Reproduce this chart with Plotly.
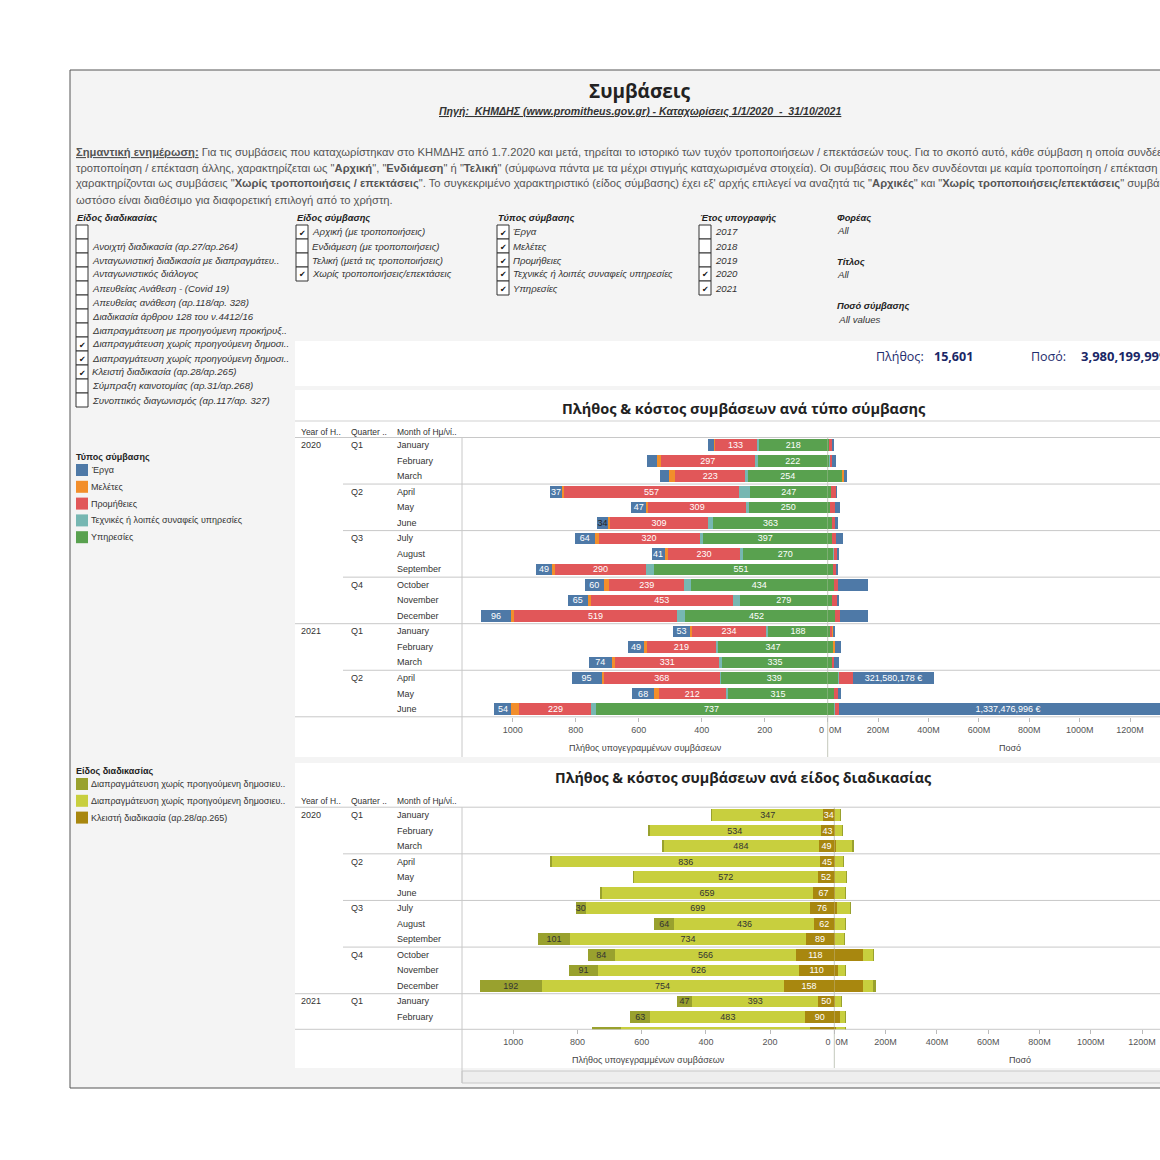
import plotly.graph_objects as go

W = H = 1160
def X(p): return p / W
def Y(p): return 1 - p / H

ARIAL = "Liberation Sans, Arial, sans-serif"
NARROW = "Liberation Sans Narrow, Liberation Sans, Arial, sans-serif"
TITLEF = "Open Sans, Noto Sans, sans-serif"
NB = "\u00a0"

# ---------------- data ----------------
months = ["January", "February", "March", "April", "May", "June", "July", "August", "September",
          "October", "November", "December", "January", "February", "March", "April", "May", "June"]
years = ["2020"] * 12 + ["2021"] * 6
quarters = ["Q1"] * 3 + ["Q2"] * 3 + ["Q3"] * 3 + ["Q4"] * 3 + ["Q1"] * 3 + ["Q2"] * 3
keys1 = [f"{y}-{i}" for i, y in enumerate(years)]

type_names = ["Έργα", "Μελέτες", "Προμήθειες", "Τεχνικές ή λοιπές συναφείς υπηρεσίες", "Υπηρεσίες"]
type_colors = ["#4e79a7", "#f28e2b", "#e15759", "#76b7b2", "#59a14f"]

# counts per type (Jan 2020 .. Jun 2021)
erga_n = [19, 32, 28, 37, 47, 34, 64, 41, 49, 60, 65, 96, 53, 49, 74, 95, 68, 54]
meletes_n = [2, 13, 21, 6, 7, 8, 12, 10, 10, 17, 8, 8, 8, 10, 10, 7, 16, 25]
promitheies_n = [133, 297, 223, 557, 309, 309, 320, 230, 290, 239, 453, 519, 234, 219, 331, 368, 212, 229]
texnikes_n = [8, 10, 7, 34, 10, 18, 10, 8, 25, 21, 21, 26, 8, 8, 9, 4, 9, 13]
ypiresies_n = [218, 222, 254, 247, 250, 363, 397, 270, 551, 434, 279, 452, 188, 347, 335, 339, 315, 737]
erga_n_shown = [False] * 3 + [True] * 15

# amounts per type (EUR)
erga_a = [2e6, 17e6, 12e6, 1e6, 20e6, 11e6, 28e6, 9e6, 8e6, 116e6, 9e6, 111e6, 11e6, 25e6, 20e6,
          321580178, 13e6, 1337476996]
meletes_a = [0.5e6, 0.5e6, 4e6, 0.5e6, 0.5e6, 0.5e6, 0.5e6, 0.5e6, 0.5e6, 1e6, 0.5e6, 0.5e6, 0.5e6,
             4e6, 0.5e6, 0.5e6, 0.5e6, 0.5e6]
promitheies_a = [12e6, 9e6, 2e6, 20e6, 20e6, 13e6, 17e6, 13e6, 12e6, 15e6, 20e6, 20e6, 9e6, 2e6, 9e6,
                 57e6, 15e6, 19e6]
texnikes_a = [1e6] * 18
ypiresies_a = [6e6, 7e6, 56e6, 13e6, 9e6, 16e6, 16e6, 22e6, 20e6, 25e6, 16e6, 29e6, 9e6, 20e6, 16e6,
               42e6, 25e6, 26e6]
erga_a_shown = [False] * 15 + [True, False, True]

# chart 2 (Jan 2020 .. Mar 2021)
n2 = 15
keys2 = keys1[:n2]
proc_names = ["Διαπραγμάτευση χωρίς προηγούμενη δημοσιευ..",
              "Διαπραγμάτευση χωρίς προηγούμενη δημοσιευ..",
              "Κλειστή διαδικασία (αρ.28/αρ.265)"]
proc_colors = ["#99a12e", "#c8cf3e", "#a8870f"]
olive_n = [2, 1, 2, 2, 1, 4, 30, 64, 101, 84, 91, 192, 47, 63, 93]
yg_n = [347, 534, 484, 836, 572, 659, 699, 436, 734, 566, 626, 754, 393, 483, 587]
gold_n = [34, 43, 49, 45, 52, 67, 76, 62, 89, 118, 110, 158, 50, 90, 76]
olive_n_shown = [False] * 6 + [True] * 8 + [False]
olive_a = [0.3e6, 0.2e6, 3e6, 0.3e6, 0.3e6, 0.3e6, 0.5e6, 0.5e6, 0.5e6, 1e6, 0.5e6, 9e6, 0.5e6, 0.5e6, 0.5e6]
yg_a = [24e6, 31e6, 68e6, 35e6, 45e6, 42e6, 55e6, 42e6, 38e6, 40e6, 31e6, 39e6, 27e6, 22e6, 39e6]
gold_a = [1e6, 2e6, 6e6, 3e6, 3e6, 2e6, 9e6, 2e6, 2e6, 113e6, 13e6, 113e6, 2e6, 22e6, 5e6]

# left count axis shows 200..1000; its "0" is printed together with the amount axis' "0M"
count_ticks = [200, 400, 600, 800, 1000]
count_ticktext = ["200", "400", "600", "800", "1000"]
amount_ticks = [0, 200e6, 400e6, 600e6, 800e6, 1000e6, 1200e6]
amount_ticktext = [NB * 2 + "0" + NB * 2 + "0M", "200M", "400M", "600M", "800M", "1000M", "1200M"]

# ---------------- figure ----------------
fig = go.Figure()

def lbl(vals, shown=None):
    return [str(v) if (shown is None or s) else "" for v, s in zip(vals, shown or [True] * len(vals))]

# Chart 1 counts (stack order from zero: Υπηρεσίες, Τεχνικές, Προμήθειες, Μελέτες, Έργα)
c1_counts = [
    (4, ypiresies_n, lbl(ypiresies_n), "white"),
    (3, texnikes_n, [""] * 18, "white"),
    (2, promitheies_n, lbl(promitheies_n), "white"),
    (1, meletes_n, [""] * 18, "white"),
    (0, erga_n, lbl(erga_n, erga_n_shown), ["#222" if v == 34 else "white" for v in erga_n]),
]
for idx, vals, texts, tcol in c1_counts:
    fig.add_trace(go.Bar(y=keys1, x=vals, orientation="h", marker=dict(color=type_colors[idx], line=dict(width=0)),
                         name=type_names[idx], text=texts, textposition="inside", insidetextanchor="middle",
                         constraintext="none", textangle=0,
                         textfont=dict(size=9, color=tcol, family=ARIAL),
                         xaxis="x", yaxis="y", showlegend=False, hoverinfo="skip"))
c1_amounts = [
    (4, ypiresies_a, [""] * 18),
    (3, texnikes_a, [""] * 18),
    (2, promitheies_a, [""] * 18),
    (1, meletes_a, [""] * 18),
    (0, erga_a, [f"{int(v):,} €" if s else "" for v, s in zip(erga_a, erga_a_shown)]),
]
for idx, vals, texts in c1_amounts:
    fig.add_trace(go.Bar(y=keys1, x=vals, orientation="h", marker=dict(color=type_colors[idx], line=dict(width=0)),
                         name=type_names[idx], text=texts, textposition="inside", insidetextanchor="middle",
                         constraintext="none", textangle=0,
                         textfont=dict(size=9, color="white", family=ARIAL),
                         xaxis="x2", yaxis="y", showlegend=False, hoverinfo="skip"))

# Chart 2 (stack order from zero: Κλειστή, yellow-green, olive)
c2_counts = [
    (2, gold_n, lbl(gold_n), "white"),
    (1, yg_n, lbl(yg_n), "#333"),
    (0, olive_n, lbl(olive_n, olive_n_shown), "#333"),
]
for idx, vals, texts, tcol in c2_counts:
    fig.add_trace(go.Bar(y=keys2, x=vals, orientation="h", marker=dict(color=proc_colors[idx], line=dict(width=0)),
                         name=proc_names[idx], text=texts, textposition="inside", insidetextanchor="middle",
                         constraintext="none", textangle=0,
                         textfont=dict(size=9, color=tcol, family=ARIAL),
                         xaxis="x3", yaxis="y2", showlegend=False, hoverinfo="skip"))
for idx, vals in [(2, gold_a), (1, yg_a), (0, olive_a)]:
    fig.add_trace(go.Bar(y=keys2, x=vals, orientation="h", marker=dict(color=proc_colors[idx], line=dict(width=0)),
                         name=proc_names[idx], xaxis="x4", yaxis="y2", showlegend=False, hoverinfo="skip"))

# ---------------- shapes & annotations ----------------
shapes = []
ann = []

def rect(x0, y0, x1, y1, fill, line=None, lw=1):
    shapes.append(dict(type="rect", xref="paper", yref="paper", x0=X(x0), x1=X(x1), y0=Y(y0), y1=Y(y1),
                       fillcolor=fill, line=dict(color=line or fill, width=lw if line else 0), layer="below"))

def hline(x0, x1, y, color="#c8c8c8", lw=1):
    shapes.append(dict(type="line", xref="paper", yref="paper", x0=X(x0), x1=X(x1), y0=Y(y), y1=Y(y),
                       line=dict(color=color, width=lw), layer="below"))

def vline(x, y0, y1, color="#c8c8c8", lw=1):
    shapes.append(dict(type="line", xref="paper", yref="paper", x0=X(x), x1=X(x), y0=Y(y0), y1=Y(y1),
                       line=dict(color=color, width=lw), layer="below"))

def txt(x, y, s, size=9, color="#333", family=ARIAL, xanchor="left", yanchor="middle", yref="paper"):
    ann.append(dict(x=X(x), y=(Y(y) if yref == "paper" else y), xref="paper", yref=yref, text=s,
                    showarrow=False, xanchor=xanchor, yanchor=yanchor,
                    font=dict(size=size, color=color, family=family)))

# dashboard background
rect(70, 70, 1180, 1088, "#f4f4f4", "#555555", 1)
# KPI panel & chart panels
rect(295, 341, 1170, 386, "#ffffff")
rect(295, 390, 1170, 757, "#ffffff")
rect(295, 763, 1170, 1068, "#ffffff")
# scrollbar
rect(462, 1071, 1170, 1083, "#eeeeee", "#c8c8c8", 1)

# titles
txt(640, 91, "<b>Συμβάσεις</b>", size=19, color="#222", family=TITLEF, xanchor="center")
txt(640, 111, "<b><i><u>Πηγή:  ΚΗΜΔΗΣ (www.promitheus.gov.gr) - Καταχωρίσεις 1/1/2020  -  31/10/2021</u></i></b>",
    size=10.6, color="#333", family=NARROW, xanchor="center")

note = [
    "<b><u>Σημαντική ενημέρωση:</u></b> Για τις συμβάσεις που καταχωρίστηκαν στο ΚΗΜΔΗΣ από 1.7.2020 και μετά, τηρείται το ιστορικό των τυχόν τροποποιήσεων / επεκτάσεών τους. Για το σκοπό αυτό, κάθε σύμβαση η οποία συνδέεται με κάποια",
    "τροποποίηση / επέκταση άλλης, χαρακτηρίζεται ως \"<b>Αρχική</b>\", \"<b>Ενδιάμεση</b>\" ή \"<b>Τελική</b>\" (σύμφωνα πάντα με τα μέχρι στιγμής καταχωρισμένα στοιχεία). Οι συμβάσεις που δεν συνδέονται με καμία τροποποίηση / επέκταση",
    "χαρακτηρίζονται ως συμβάσεις \"<b>Χωρίς τροποποιήσεις / επεκτάσεις</b>\". Το συγκεκριμένο χαρακτηριστικό (είδος σύμβασης) έχει εξ' αρχής επιλεγεί να αναζητά τις \"<b>Αρχικές</b>\" και \"<b>Χωρίς τροποποιήσεις/επεκτάσεις</b>\" συμβάσεις,",
    "ωστόσο είναι διαθέσιμο για διαφορετική επιλογή από το χρήστη.",
]
for i, line in enumerate(note):
    txt(74, 152 + 16 * i, line, size=11.2, color="#555", family=NARROW)

# filters
def checklist(x, y0, title, labels, checked):
    txt(x - 1, 218, f"<b><i>{title}</i></b>", size=9.3, color="#222", family=NARROW)
    for i, (lab, c) in enumerate(zip(labels, checked)):
        yc = y0 + 14 * i
        shapes.append(dict(type="rect", xref="paper", yref="paper", x0=X(x), x1=X(x + 12), y0=Y(yc - 7),
                           y1=Y(yc + 7), fillcolor="#ffffff", line=dict(color="#333", width=1), layer="below"))
        if c:
            txt(x + 6, yc + 1, "✔", size=8, color="#111", family="DejaVu Sans", xanchor="center")
        if lab:
            txt(x + 14, yc, f"<i>{lab}</i>", size=9.6, color="#333", family=NARROW)

proc_filter = ["", "Ανοιχτή διαδικασία (αρ.27/αρ.264)", "Ανταγωνιστική διαδικασία με διαπραγμάτευ..",
               "Ανταγωνιστικός διάλογος", "Απευθείας Ανάθεση - (Covid 19)", "Απευθείας ανάθεση (αρ.118/αρ. 328)",
               "Διαδικασία άρθρου 128 του ν.4412/16", "Διαπραγμάτευση με προηγούμενη προκήρυξ..",
               "Διαπραγμάτευση χωρίς προηγούμενη δημοσι..", "Διαπραγμάτευση χωρίς προηγούμενη δημοσι..",
               "Κλειστή διαδικασία (αρ.28/αρ.265)", "Σύμπραξη καινοτομίας (αρ.31/αρ.268)",
               "Συνοπτικός διαγωνισμός (αρ.117/αρ. 327)"]
proc_checked = [False] * 8 + [True] * 3 + [False] * 2
kind_filter = ["Αρχική (με τροποποιήσεις)", "Ενδιάμεση (με τροποποιήσεις)", "Τελική (μετά τις τροποποιήσεις)",
               "Χωρίς τροποποιήσεις/επεκτάσεις"]
kind_checked = [True, False, False, True]
year_filter = ["2017", "2018", "2019", "2020", "2021"]
year_checked = [False, False, False, True, True]

checklist(76, 232, "Είδος διαδικασίας", proc_filter, proc_checked)
checklist(296, 232, "Είδος σύμβασης", kind_filter, kind_checked)
checklist(497, 232, "Τύπος σύμβασης", type_names, [True] * 5)
checklist(699, 232, "Έτος υπογραφής", year_filter, year_checked)

for yy, t, v in [(218, "Φορέας", "All"), (262, "Τίτλος", "All"), (306, "Ποσό σύμβασης", " All values")]:
    txt(835, yy, f"<b><i>{t}</i></b>", size=9.3, color="#222", family=NARROW)
    txt(835, yy + 13, f"<i>{v}</i>", size=9.6, color="#333", family=NARROW)

# KPI
txt(874, 356, "Πλήθος:", size=12.5, color="#1f2d6e", family=TITLEF)
txt(932, 356, "<b>15,601</b>", size=12.5, color="#1a2766", family=TITLEF)
txt(1029, 356, "Ποσό:", size=12.5, color="#1f2d6e", family=TITLEF)
txt(1079, 356, "<b>3,980,199,999 €</b>", size=13, color="#1a2766", family=TITLEF)

# legends (manual, Tableau style)
def legend(y0, title, names, colors, order):
    txt(74, y0, f"<b>{title}</b>", size=9, color="#222")
    for k, i in enumerate(order):
        yc = y0 + 13 + 16.8 * k
        rect(76, yc - 6, 88, yc + 6, colors[i])
        txt(89, yc, names[i], size=9, color="#333")

legend(457, "Τύπος σύμβασης", type_names, type_colors, [0, 1, 2, 3, 4])
legend(771, "Είδος διαδικασίας", proc_names, proc_colors, [0, 1, 2])

# chart titles
txt(744, 408, "<b>Πλήθος & κόστος συμβάσεων ανά τύπο σύμβασης</b>", size=14.5, color="#222", family=TITLEF,
    xanchor="center")
txt(744, 777, "<b>Πλήθος & κόστος συμβάσεων ανά είδος διαδικασίας</b>", size=14.3, color="#222", family=TITLEF,
    xanchor="center")
hline(295, 1170, 421, "#e8e8e8", 2)

# headers & row labels
def rows(keys, yref, header_y, top_line, axis_y, bottom_y, zero_x, panel_bottom):
    txt(299, header_y, "Year of H..", size=8.5)
    txt(349, header_y, "Quarter ..", size=8.5)
    txt(395, header_y, "Month of Ημ/νί..", size=8.5)
    hline(295, 1170, top_line)
    hline(295, 1170, axis_y)
    vline(462, top_line, panel_bottom)
    vline(zero_x, top_line, bottom_y, "#c4c8bc")
    for i, k in enumerate(keys):
        txt(395, k, months[i], size=9, yref=yref)
        if i == 0 or quarters[i] != quarters[i - 1]:
            txt(349, k, quarters[i], size=9, yref=yref)
        if i == 0 or years[i] != years[i - 1]:
            txt(299, k, years[i], size=9, yref=yref)
        if i > 0 and years[i] != years[i - 1]:
            shapes.append(dict(type="line", xref="paper", yref=yref, x0=X(295), x1=X(1170), y0=i - 0.5,
                               y1=i - 0.5, line=dict(color="#c8c8c8", width=1), layer="below"))
        elif i > 0 and quarters[i] != quarters[i - 1]:
            shapes.append(dict(type="line", xref="paper", yref=yref, x0=X(343), x1=X(1170), y0=i - 0.5,
                               y1=i - 0.5, line=dict(color="#c8c8c8", width=1), layer="below"))

rows(keys1, "y", 432, 437.5, 716.8, 757, 827.7, 757)
rows(keys2[:14], "y2", 801, 807.2, 1029.3, 1068, 834.3, 1083)

txt(645, 748, "Πλήθος υπογεγραμμένων συμβάσεων", size=9, color="#444", xanchor="center")
txt(1010, 748, "Ποσό", size=9, color="#444", xanchor="center")
txt(648, 1060, "Πλήθος υπογεγραμμένων συμβάσεων", size=9, color="#444", xanchor="center")
txt(1020, 1060, "Ποσό", size=9, color="#444", xanchor="center")

# ---------------- axes ----------------
tickfont = dict(size=9, color="#555", family=ARIAL)
common_x = dict(showgrid=False, zeroline=False, showline=False, ticks="outside", ticklen=4, tickcolor="#bbbbbb",
                tickfont=tickfont, fixedrange=True, automargin=False)
common_y = dict(type="category", showgrid=False, zeroline=False, showline=False, showticklabels=False, ticks="",
                fixedrange=True, automargin=False)

fig.update_layout(
    xaxis=dict(domain=[X(462), X(827.7)], range=[1161, 0], anchor="y", tickvals=count_ticks,
               ticktext=count_ticktext, **common_x),
    xaxis2=dict(domain=[X(827.7), 1], range=[0, 1318.7e6], anchor="y", tickvals=amount_ticks,
                ticktext=amount_ticktext, **common_x),
    yaxis=dict(domain=[Y(716.8), Y(437.5)], range=[17.5, -0.5], categoryarray=keys1, anchor="x", **common_y),
    xaxis3=dict(domain=[X(462), X(834.3)], range=[1159.8, 0], anchor="y2", tickvals=count_ticks,
                ticktext=count_ticktext, **common_x),
    xaxis4=dict(domain=[X(834.3), 1], range=[0, 1269.8e6], anchor="y2", tickvals=amount_ticks,
                ticktext=amount_ticktext, **common_x),
    yaxis2=dict(domain=[Y(1029.3), Y(807.2)], range=[13.79, -0.5], categoryarray=keys2, anchor="x3", **common_y),
    barmode="stack",
    bargap=0.25,
    width=W, height=H,
    margin=dict(l=0, r=0, t=0, b=0, pad=0, autoexpand=False),
    paper_bgcolor="#ffffff",
    plot_bgcolor="rgba(0,0,0,0)",
    shapes=shapes,
    annotations=ann,
    showlegend=False,
)

fig.write_html("out.html", config={"displayModeBar": False},
               post_script="document.body.style.margin='0';document.body.style.overflow='hidden';")
